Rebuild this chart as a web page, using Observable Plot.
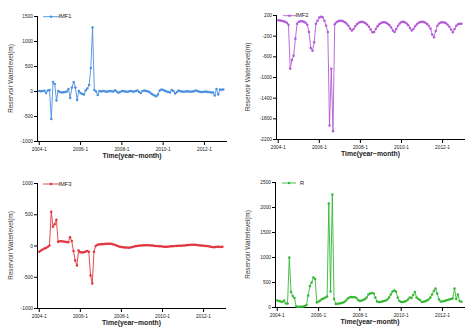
<!DOCTYPE html>
<html><head><meta charset="utf-8">
<script src="https://cdn.jsdelivr.net/npm/d3@7"></script>
<script src="https://cdn.jsdelivr.net/npm/@observablehq/plot@0.6"></script>
<style>
body{margin:0;background:#fff;}
#grid{position:relative;width:474px;height:336px;overflow:hidden;}
#grid svg{position:absolute;overflow:visible;}
</style></head><body><div id="grid"></div>
<script>
// monthly series 2004-01 .. 2012-12 (108 months)
const startYear = 2004, monthCount = 108;
const xTickLabels = ["2004-1","2006-1","2008-1","2010-1","2012-1"];

const imf1 = [10,5,10,15,-30,20,30,-550,190,150,-180,10,
  -10,-20,-15,-10,0,50,-130,80,190,80,-170,10,
  -30,-50,-60,20,60,130,470,1280,30,0,-70,10,
  0,10,5,-5,0,10,5,0,25,0,-25,-10,
  10,5,0,-5,0,10,5,-5,10,20,-10,-30,
  10,20,10,5,-10,-40,-60,-80,-95,-60,20,40,
  30,15,0,-10,-20,30,10,-40,-10,20,5,0,
  -5,0,5,0,-5,0,5,20,10,-5,-10,-10,
  -5,0,-10,-10,-20,-20,-80,50,-60,40,35,40];

const imf2 = [110,105,100,90,80,60,20,-830,-660,-580,-250,40,
  80,90,90,80,60,20,-120,-430,-480,-320,40,100,
  160,175,165,100,0,-120,-1930,-830,-2040,30,70,90,
  100,100,90,70,40,0,-50,-90,-60,-10,30,60,
  75,80,70,50,20,-20,-70,-125,-120,-60,-10,30,
  55,70,70,60,40,10,-30,-90,-120,-60,0,45,
  75,80,70,45,10,-40,-90,-60,-10,30,60,75,
  80,75,60,35,0,-50,-170,-220,-100,0,45,65,
  70,65,50,20,-20,-70,-125,-60,0,30,40,40];

const imf3 = [-90,-70,-55,-40,-30,-10,10,550,310,350,420,70,
  75,75,72,70,65,60,140,80,-80,-230,-310,-70,
  -100,-105,-100,-90,-80,-90,-470,-600,-90,0,20,25,
  30,30,32,35,35,35,35,30,20,10,0,-10,
  -15,-20,-25,-25,-28,-25,-20,-10,-5,0,5,8,
  10,12,12,12,12,10,8,5,2,0,-2,-5,
  -8,-10,-10,-10,-8,-5,-2,0,2,4,5,6,
  8,10,12,15,18,20,22,20,15,12,10,8,
  5,2,0,-5,-10,-15,-20,-15,-12,-10,-15,-10];

const resid = [140,130,120,110,140,80,80,1000,310,230,190,20,
  15,15,15,20,25,50,240,430,500,600,570,100,
  120,140,170,180,200,220,2080,320,2260,170,70,75,
  80,85,95,110,140,180,200,210,205,210,190,150,
  130,140,150,170,200,260,280,290,280,200,120,110,
  110,120,130,140,160,200,260,320,340,320,200,130,
  110,110,120,130,160,200,190,250,310,200,170,150,
  110,115,125,140,160,200,260,330,380,280,160,120,
  120,130,140,150,160,170,180,380,170,260,130,115];

const seriesNames = ["IMF1","IMF2","IMF3","R"];
const seriesColors = ["#4a8fe0","#b35ad6","#e2343f","#35b835"];
const yDomains = [[-1000,1500],[-2200,200],[-1000,1000],[0,2500]];
const yTickSets = [[-1000,-500,0,500,1000,1500],[-2200,-1800,-1400,-1000,-600,-200,200],[-1000,-500,0,500,1000],[0,500,1000,1500,2000,2500]];
const yTitle = "Reservoir Waterlevel(m)";
const xTitle = "Time(year\u2212month)";

const dates = d3.range(monthCount).map(i => new Date(Date.UTC(startYear, i, 1)));
const xTicks = xTickLabels.map(s => { const [y,m] = s.split("-").map(Number); return new Date(Date.UTC(y, m-1, 1)); });
const x0 = new Date(Date.UTC(2003, 11, 1)), x1 = new Date(Date.UTC(2013, 1, 12));
const fmt = d => `${d.getUTCFullYear()}-${d.getUTCMonth()+1}`;

const layout = [
  {left:0, top:0, ml:37, mt:16, mr:10, mb:27, lg:[43,59,16.7]},
  {left:237, top:0, ml:39, mt:15, mr:9, mb:29, lg:[46,59,15.7]},
  {left:0, top:168, ml:37, mt:15, mr:11, mb:28, lg:[43,59,16]},
  {left:237, top:168, ml:38, mt:14, mr:9, mb:29, lg:[45,59,15]}
];
const values = [imf1, imf2, imf3, resid];
const font = "'Liberation Sans', Arial, sans-serif";
const grid = document.getElementById("grid");

values.forEach((vals, k) => {
  const L = layout[k];
  const data = vals.map((v, i) => ({date: dates[i], value: v}));
  const W = 237, H = 168;
  const chart = Plot.plot({
    width: W, height: H,
    marginLeft: L.ml, marginTop: L.mt, marginRight: L.mr, marginBottom: L.mb,
    style: {fontFamily: font, fontSize: "4.8px", color: "#222", background: "transparent", overflow: "visible"},
    x: {type: "utc", domain: [x0, x1]},
    y: {domain: yDomains[k]},
    marks: [
      Plot.axisX({ticks: xTicks, tickFormat: fmt, tickSize: 4, tickPadding: 2, label: null, stroke: "#000"}),
      Plot.axisY({ticks: yTickSets[k], tickFormat: d => String(d), tickSize: 3, tickPadding: 1.5, label: null, stroke: "#000"}),
      Plot.ruleX([x0], {stroke: "#000", strokeWidth: 1}),
      Plot.ruleY([yDomains[k][0]], {stroke: "#000", strokeWidth: 1}),
      Plot.lineY(data, {x: "date", y: "value", stroke: seriesColors[k], strokeWidth: 0.9}),
      Plot.dot(data, {x: "date", y: "value", r: 1.25, fill: seriesColors[k], stroke: "none"})
    ]
  });
  chart.style.left = L.left + "px";
  chart.style.top = L.top + "px";
  grid.appendChild(chart);
  const svg = d3.select(chart);
  const plotBottom = H - L.mb;
  svg.append("text")
    .attr("transform", `translate(11.5,${(L.mt + plotBottom)/2}) rotate(-90)`)
    .attr("text-anchor", "middle").attr("dominant-baseline", "middle")
    .attr("font-family", font).attr("font-size", "6.4px").attr("fill", "#333")
    .text(yTitle);
  svg.append("text")
    .attr("x", (L.ml + W - L.mr)/2).attr("y", plotBottom + 17)
    .attr("text-anchor", "middle")
    .attr("font-family", font).attr("font-size", "6.8px").attr("font-weight", "600").attr("fill", "#222")
    .text(xTitle);
  const [lx0, lx1, ly] = L.lg;
  svg.append("line").attr("x1", lx0).attr("x2", lx1).attr("y1", ly).attr("y2", ly)
    .attr("stroke", seriesColors[k]).attr("stroke-width", 0.9);
  svg.append("circle").attr("cx", (lx0+lx1)/2).attr("cy", ly).attr("r", 1.25).attr("fill", seriesColors[k]);
  svg.append("text").attr("x", lx1 + 6).attr("y", ly).attr("dominant-baseline", "middle")
    .attr("font-family", font).attr("font-size", "5.8px").attr("fill", "#222")
    .text(seriesNames[k]);
});
</script></body></html>
